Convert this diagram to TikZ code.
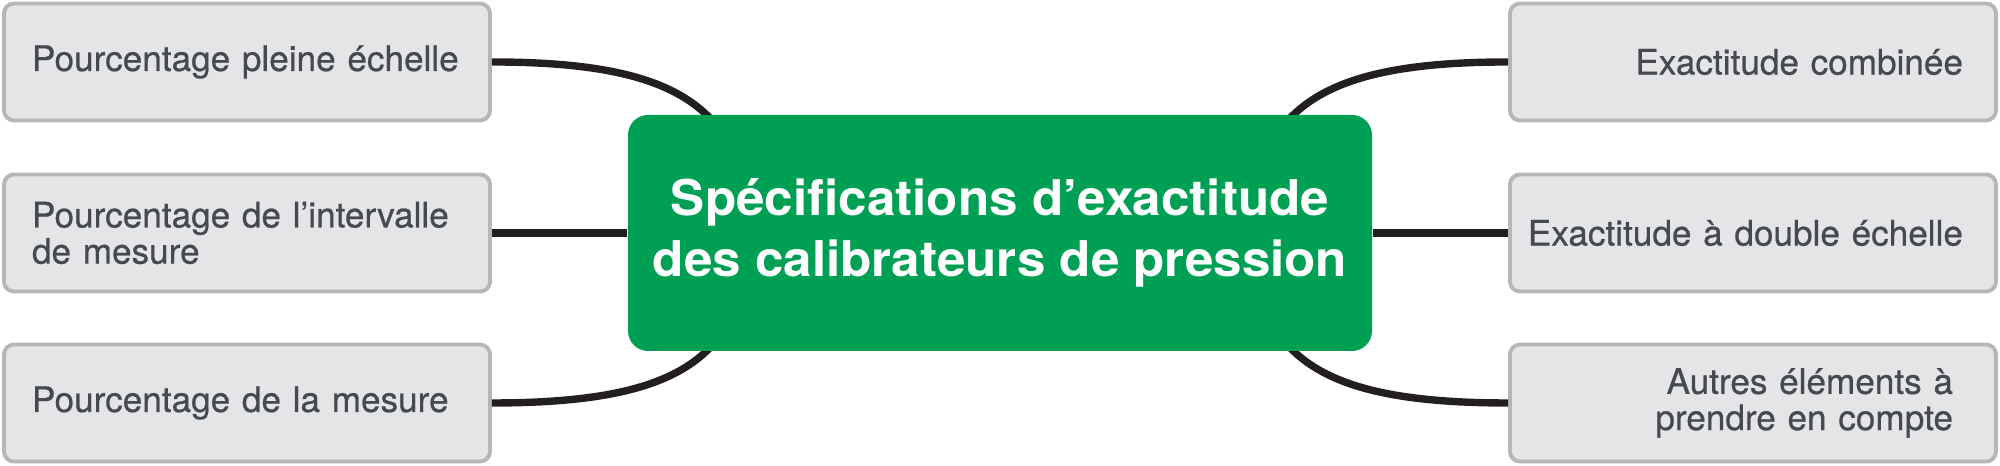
\documentclass[tikz,border=0pt]{standalone}
\usepackage{fontspec}
\setmainfont{TeX Gyre Heros}
\newfontfamily\boxfont{TeX Gyre Heros}[FakeBold=0.6]
\newfontfamily\titlefont{TeX Gyre Heros}[FakeStretch=1.04]
\usepackage{tikz}
\definecolor{colorspec}  {RGB}{0  ,160,84 }
\definecolor{colorbox}   {RGB}{228,229,231}
\definecolor{colorframe} {RGB}{181,182,184}
\definecolor{colortext}  {RGB}{70 ,74 ,80 }
\definecolor{colorlink}  {RGB}{35 ,31 ,32 }

\begin{document}
\begin{tikzpicture}[
    font={\boxfont\fontsize{10}{10.3}\selectfont},
    base/.style={text=colortext,rectangle,rounded corners=0.1cm,draw=colorframe,
      line width=1.1pt,fill=colorbox,minimum width=4.86cm,minimum height=1.17cm},
    leftbox/.style={base,align=left,inner xsep=0.28cm,text width=4.3cm},
    rightbox/.style={base,align=right,inner xsep=0.33cm,text width=4.2cm},
    spec/.style={text=white,fill=colorspec,rectangle,rounded corners=0.2cm,align=center,
      minimum width=7.44cm,minimum height=2.36cm,
      font={\titlefont\bfseries\fontsize{14}{17.4}\selectfont}},
    link/.style={draw=colorlink,line width=2.1pt},
]
    \useasboundingbox (0,0) rectangle (20,4.66);

    \node[leftbox] at (2.47,4.04) (pfs) {Pourcentage pleine échelle};
    \node[leftbox] at (2.47,2.33) (pim) {Pourcentage de l’intervalle\\de mesure};
    \node[leftbox] at (2.47,0.63) (pdm) {Pourcentage de la mesure};

    \node[rightbox] at (17.53,4.04) (ecb) {Exactitude combinée};
    \node[rightbox] at (17.53,2.33) (ede) {\llap{Exactitude à double échelle}};
    \node[rightbox,inner xsep=0.43cm,text width=4.0cm] at (17.53,0.63) (aut) {Autres éléments à\\prendre en compte};

    \coordinate (tl) at (7.35,3.11);
    \coordinate (bl) at (7.35,1.55);
    \coordinate (tr) at (12.65,3.11);
    \coordinate (br) at (12.65,1.55);
    \draw[link] (pfs.east) .. controls +(1.48,0) and +(-0.3,0.64) .. (tl);
    \draw[link] (pdm.east) .. controls +(1.48,0) and +(-0.3,-0.64) .. (bl);
    \draw[link] (ecb.west) .. controls +(-1.48,0) and +(0.3,0.64) .. (tr);
    \draw[link] (aut.west) .. controls +(-1.48,0) and +(0.3,-0.64) .. (br);

    \node[spec] at (10,2.33) (main) {Spécifications d’exactitude\\des calibrateurs de pression};
    \draw[link] (pim.east) -- (main.west);
    \draw[link] (ede.west) -- (main.east);

\end{tikzpicture}
\end{document}
